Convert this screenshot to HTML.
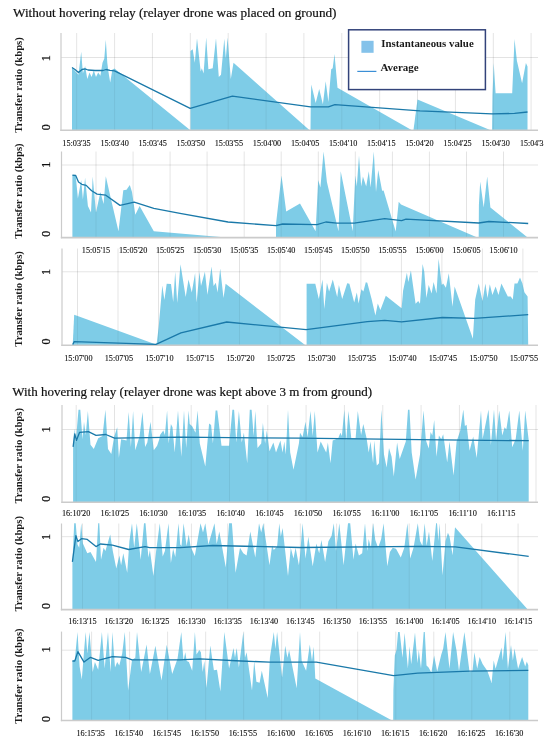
<!DOCTYPE html>
<html lang="en"><head><meta charset="utf-8"><title>Transfer ratio charts</title>
<style>
html,body{margin:0;padding:0;background:#fff}
body{width:550px;height:743px;overflow:hidden}
svg{display:block}
text{font-family:"Liberation Serif", serif;fill:#111}
.ttl{font-size:13px;stroke:#111;stroke-width:0.2px}
.xl{font-size:8.8px;fill:#111;stroke:#111;stroke-width:0.12px}
.yl{font-size:11px;font-weight:bold;fill:#1a1a1a}
.tk{font-size:12px;fill:#111;stroke:#111;stroke-width:0.25px}
.lg{font-size:11px;font-weight:bold;fill:#1a1a1a}
</style></head><body>
<svg width="550" height="743" viewBox="0 0 550 743">
<rect width="550" height="743" fill="#fff"/>
<text class="ttl" x="13" y="17" textLength="323.5" lengthAdjust="spacingAndGlyphs">Without hovering relay (relayer drone was placed on ground)</text>
<text class="ttl" x="12.2" y="396.3" textLength="360" lengthAdjust="spacingAndGlyphs">With hovering relay (relayer drone was kept above 3 m from ground)</text>
<g id="chart1">
<line x1="76.7" y1="33" x2="76.7" y2="130" stroke="rgba(0,0,0,0.05)" stroke-width="1"/>
<line x1="114.6" y1="33" x2="114.6" y2="130" stroke="rgba(0,0,0,0.05)" stroke-width="1"/>
<line x1="152.4" y1="33" x2="152.4" y2="130" stroke="rgba(0,0,0,0.05)" stroke-width="1"/>
<line x1="190.3" y1="33" x2="190.3" y2="130" stroke="rgba(0,0,0,0.05)" stroke-width="1"/>
<line x1="228.2" y1="33" x2="228.2" y2="130" stroke="rgba(0,0,0,0.05)" stroke-width="1"/>
<line x1="266.1" y1="33" x2="266.1" y2="130" stroke="rgba(0,0,0,0.05)" stroke-width="1"/>
<line x1="303.9" y1="33" x2="303.9" y2="130" stroke="rgba(0,0,0,0.05)" stroke-width="1"/>
<line x1="341.8" y1="33" x2="341.8" y2="130" stroke="rgba(0,0,0,0.05)" stroke-width="1"/>
<line x1="379.7" y1="33" x2="379.7" y2="130" stroke="rgba(0,0,0,0.05)" stroke-width="1"/>
<line x1="417.5" y1="33" x2="417.5" y2="130" stroke="rgba(0,0,0,0.05)" stroke-width="1"/>
<line x1="455.4" y1="33" x2="455.4" y2="130" stroke="rgba(0,0,0,0.05)" stroke-width="1"/>
<line x1="493.3" y1="33" x2="493.3" y2="130" stroke="rgba(0,0,0,0.05)" stroke-width="1"/>
<line x1="531.1" y1="33" x2="531.1" y2="130" stroke="rgba(0,0,0,0.05)" stroke-width="1"/>
<line x1="61" y1="57.5" x2="538" y2="57.5" stroke="rgba(0,0,0,0.05)" stroke-width="1"/>
<polygon points="72.0,130.0 72.0,67.5 76.4,72.5 78.5,74.7 81.2,51.8 82.9,73.6 85.1,66.0 87.3,79.1 89.5,72.5 91.6,76.9 93.8,70.4 96.0,76.9 98.2,72.5 100.4,75.8 102.5,62.7 104.3,58.4 105.8,39.8 107.3,62.7 108.4,71.5 110.2,82.4 112.4,69.6 114.5,68.6 190.0,130.0" fill="#7ecce7"/>
<polygon points="190.5,130.0 190.5,51.0 192.7,49.2 194.8,62.7 197.0,38.3 200.7,71.5 201.8,68.2 203.6,73.6 206.2,37.6 208.4,69.3 212.7,68.2 216.0,38.3 218.8,76.9 221.0,74.7 224.3,38.7 225.8,58.4 227.6,37.6 230.8,79.1 233.5,62.7 309.3,130.0" fill="#7ecce7"/>
<polygon points="310.5,130.0 310.8,100.0 311.3,84.5 315.7,103.1 319.2,88.9 322.9,104.2 325.7,81.3 328.4,102.0 331.2,69.3 332.7,68.2 334.5,54.0 337.5,87.8 411.5,130.0" fill="#7ecce7"/>
<polygon points="413.5,130.0 417.5,99.5 490.0,130.0" fill="#7ecce7"/>
<polygon points="492.1,130.0 492.5,95.0 493.7,63.1 495.6,93.3 512.2,93.3 514.5,39.0 516.9,60.7 522.1,83.2 525.9,63.1 527.5,66.6 527.5,130.0" fill="#7ecce7"/>
<line x1="76.7" y1="33" x2="76.7" y2="130" stroke="rgba(0,0,0,0.06)" stroke-width="1"/>
<line x1="114.6" y1="33" x2="114.6" y2="130" stroke="rgba(0,0,0,0.06)" stroke-width="1"/>
<line x1="152.4" y1="33" x2="152.4" y2="130" stroke="rgba(0,0,0,0.06)" stroke-width="1"/>
<line x1="190.3" y1="33" x2="190.3" y2="130" stroke="rgba(0,0,0,0.06)" stroke-width="1"/>
<line x1="228.2" y1="33" x2="228.2" y2="130" stroke="rgba(0,0,0,0.06)" stroke-width="1"/>
<line x1="266.1" y1="33" x2="266.1" y2="130" stroke="rgba(0,0,0,0.06)" stroke-width="1"/>
<line x1="303.9" y1="33" x2="303.9" y2="130" stroke="rgba(0,0,0,0.06)" stroke-width="1"/>
<line x1="341.8" y1="33" x2="341.8" y2="130" stroke="rgba(0,0,0,0.06)" stroke-width="1"/>
<line x1="379.7" y1="33" x2="379.7" y2="130" stroke="rgba(0,0,0,0.06)" stroke-width="1"/>
<line x1="417.5" y1="33" x2="417.5" y2="130" stroke="rgba(0,0,0,0.06)" stroke-width="1"/>
<line x1="455.4" y1="33" x2="455.4" y2="130" stroke="rgba(0,0,0,0.06)" stroke-width="1"/>
<line x1="493.3" y1="33" x2="493.3" y2="130" stroke="rgba(0,0,0,0.06)" stroke-width="1"/>
<line x1="531.1" y1="33" x2="531.1" y2="130" stroke="rgba(0,0,0,0.06)" stroke-width="1"/>
<line x1="61" y1="57.5" x2="538" y2="57.5" stroke="rgba(0,0,0,0.06)" stroke-width="1"/>
<line x1="61" y1="33" x2="61" y2="131" stroke="#cbcbcb" stroke-width="1.2"/>
<line x1="60.3" y1="130.3" x2="538" y2="130.3" stroke="#cbcbcb" stroke-width="1.6"/>
<polyline points="72.0,67.5 75.0,69.5 78.5,72.5 82.0,69.5 85.0,68.8 88.0,70.0 95.0,70.5 103.0,70.5 106.0,69.5 110.0,70.3 114.5,70.8 190.2,108.3 232.4,96.1 310.5,106.8 328.4,106.8 334.9,104.6 420.0,110.8 492.0,113.9 514.5,113.4 527.5,112.0" fill="none" stroke="#1a79a9" stroke-width="1.3" stroke-linejoin="round"/>
<text class="xl" x="76.5" y="145.5" text-anchor="middle" textLength="28.4" lengthAdjust="spacingAndGlyphs">15:03'35</text>
<text class="xl" x="114.6" y="145.5" text-anchor="middle" textLength="28.4" lengthAdjust="spacingAndGlyphs">15:03'40</text>
<text class="xl" x="152.7" y="145.5" text-anchor="middle" textLength="28.4" lengthAdjust="spacingAndGlyphs">15:03'45</text>
<text class="xl" x="190.8" y="145.5" text-anchor="middle" textLength="28.4" lengthAdjust="spacingAndGlyphs">15:03'50</text>
<text class="xl" x="228.9" y="145.5" text-anchor="middle" textLength="28.4" lengthAdjust="spacingAndGlyphs">15:03'55</text>
<text class="xl" x="267.0" y="145.5" text-anchor="middle" textLength="28.4" lengthAdjust="spacingAndGlyphs">15:04'00</text>
<text class="xl" x="305.1" y="145.5" text-anchor="middle" textLength="28.4" lengthAdjust="spacingAndGlyphs">15:04'05</text>
<text class="xl" x="343.2" y="145.5" text-anchor="middle" textLength="28.4" lengthAdjust="spacingAndGlyphs">15:04'10</text>
<text class="xl" x="381.3" y="145.5" text-anchor="middle" textLength="28.4" lengthAdjust="spacingAndGlyphs">15:04'15</text>
<text class="xl" x="419.4" y="145.5" text-anchor="middle" textLength="28.4" lengthAdjust="spacingAndGlyphs">15:04'20</text>
<text class="xl" x="457.5" y="145.5" text-anchor="middle" textLength="28.4" lengthAdjust="spacingAndGlyphs">15:04'25</text>
<text class="xl" x="495.6" y="145.5" text-anchor="middle" textLength="28.4" lengthAdjust="spacingAndGlyphs">15:04'30</text>
<text class="xl" x="520" y="145.5" textLength="23.6" lengthAdjust="spacingAndGlyphs">15:04'3</text>
<text class="yl" transform="translate(21.7,85) rotate(-90)" text-anchor="middle" textLength="95.5" lengthAdjust="spacingAndGlyphs">Transfer ratio (kbps)</text>
<text class="tk" transform="translate(50.3,58.3) rotate(-90)" text-anchor="middle">1</text>
<text class="tk" transform="translate(50.3,127.3) rotate(-90)" text-anchor="middle">0</text>
</g>
<g id="chart2">
<line x1="96.0" y1="151.5" x2="96.0" y2="237.3" stroke="rgba(0,0,0,0.05)" stroke-width="1"/>
<line x1="133.1" y1="151.5" x2="133.1" y2="237.3" stroke="rgba(0,0,0,0.05)" stroke-width="1"/>
<line x1="170.1" y1="151.5" x2="170.1" y2="237.3" stroke="rgba(0,0,0,0.05)" stroke-width="1"/>
<line x1="207.1" y1="151.5" x2="207.1" y2="237.3" stroke="rgba(0,0,0,0.05)" stroke-width="1"/>
<line x1="244.2" y1="151.5" x2="244.2" y2="237.3" stroke="rgba(0,0,0,0.05)" stroke-width="1"/>
<line x1="281.2" y1="151.5" x2="281.2" y2="237.3" stroke="rgba(0,0,0,0.05)" stroke-width="1"/>
<line x1="318.3" y1="151.5" x2="318.3" y2="237.3" stroke="rgba(0,0,0,0.05)" stroke-width="1"/>
<line x1="355.3" y1="151.5" x2="355.3" y2="237.3" stroke="rgba(0,0,0,0.05)" stroke-width="1"/>
<line x1="392.4" y1="151.5" x2="392.4" y2="237.3" stroke="rgba(0,0,0,0.05)" stroke-width="1"/>
<line x1="429.4" y1="151.5" x2="429.4" y2="237.3" stroke="rgba(0,0,0,0.05)" stroke-width="1"/>
<line x1="466.5" y1="151.5" x2="466.5" y2="237.3" stroke="rgba(0,0,0,0.05)" stroke-width="1"/>
<line x1="503.5" y1="151.5" x2="503.5" y2="237.3" stroke="rgba(0,0,0,0.05)" stroke-width="1"/>
<line x1="61.5" y1="165" x2="538" y2="165" stroke="rgba(0,0,0,0.05)" stroke-width="1"/>
<polygon points="72.4,237.3 72.4,175.1 75.7,175.5 77.9,198.5 81.2,179.9 82.9,199.5 85.1,177.7 87.9,206.1 91.0,212.6 92.7,176.6 96.0,212.6 100.4,191.9 103.6,203.9 105.8,176.2 110.6,197.4 118.5,231.2 123.3,190.2 126.5,189.7 129.8,184.9 132.0,191.9 135.3,214.8 139.6,206.1 153.8,231.2 223.6,237.3" fill="#7ecce7"/>
<polygon points="276.0,237.3 276.0,224.0 281.5,175.5 286.2,211.6 300.0,203.5 315.6,231.2 318.2,179.9 320.4,187.5 323.6,151.5 326.9,182.1 338.5,231.2 340.7,171.2 352.7,231.2 355.3,175.5 356.8,186.5 359.0,155.5 361.2,186.5 362.9,176.6 366.2,186.5 368.8,171.2 370.6,187.5 373.8,151.5 376.0,191.9 378.2,170.1 382.1,190.8 383.6,190.4 395.7,231.5 398.7,201.7 401.0,204.6 476.7,237.3" fill="#7ecce7"/>
<polygon points="478.7,237.3 478.9,205.0 480.2,181.4 483.7,207.5 487.2,176.4 490.4,207.5 527.3,237.3" fill="#7ecce7"/>
<line x1="96.0" y1="151.5" x2="96.0" y2="237.3" stroke="rgba(0,0,0,0.06)" stroke-width="1"/>
<line x1="133.1" y1="151.5" x2="133.1" y2="237.3" stroke="rgba(0,0,0,0.06)" stroke-width="1"/>
<line x1="170.1" y1="151.5" x2="170.1" y2="237.3" stroke="rgba(0,0,0,0.06)" stroke-width="1"/>
<line x1="207.1" y1="151.5" x2="207.1" y2="237.3" stroke="rgba(0,0,0,0.06)" stroke-width="1"/>
<line x1="244.2" y1="151.5" x2="244.2" y2="237.3" stroke="rgba(0,0,0,0.06)" stroke-width="1"/>
<line x1="281.2" y1="151.5" x2="281.2" y2="237.3" stroke="rgba(0,0,0,0.06)" stroke-width="1"/>
<line x1="318.3" y1="151.5" x2="318.3" y2="237.3" stroke="rgba(0,0,0,0.06)" stroke-width="1"/>
<line x1="355.3" y1="151.5" x2="355.3" y2="237.3" stroke="rgba(0,0,0,0.06)" stroke-width="1"/>
<line x1="392.4" y1="151.5" x2="392.4" y2="237.3" stroke="rgba(0,0,0,0.06)" stroke-width="1"/>
<line x1="429.4" y1="151.5" x2="429.4" y2="237.3" stroke="rgba(0,0,0,0.06)" stroke-width="1"/>
<line x1="466.5" y1="151.5" x2="466.5" y2="237.3" stroke="rgba(0,0,0,0.06)" stroke-width="1"/>
<line x1="503.5" y1="151.5" x2="503.5" y2="237.3" stroke="rgba(0,0,0,0.06)" stroke-width="1"/>
<line x1="61.5" y1="165" x2="538" y2="165" stroke="rgba(0,0,0,0.06)" stroke-width="1"/>
<line x1="61.5" y1="151.5" x2="61.5" y2="238.3" stroke="#cbcbcb" stroke-width="1.2"/>
<line x1="60.8" y1="237.60000000000002" x2="538" y2="237.60000000000002" stroke="#cbcbcb" stroke-width="1.6"/>
<polyline points="72.4,175.1 75.7,175.5 78.5,182.0 81.8,184.3 86.2,185.4 91.6,190.8 97.1,194.1 105.8,195.2 120.0,205.4 134.2,202.2 153.8,208.3 180.0,213.3 228.0,222.0 276.0,225.7 282.6,224.0 317.0,224.6 325.8,222.0 336.7,223.1 354.2,223.1 384.7,218.7 401.6,220.6 406.0,219.2 478.7,223.0 488.9,221.5 528.2,223.5" fill="none" stroke="#1a79a9" stroke-width="1.3" stroke-linejoin="round"/>
<text class="xl" x="96.0" y="252.5" text-anchor="middle" textLength="28.4" lengthAdjust="spacingAndGlyphs">15:05'15</text>
<text class="xl" x="133.1" y="252.5" text-anchor="middle" textLength="28.4" lengthAdjust="spacingAndGlyphs">15:05'20</text>
<text class="xl" x="170.1" y="252.5" text-anchor="middle" textLength="28.4" lengthAdjust="spacingAndGlyphs">15:05'25</text>
<text class="xl" x="207.1" y="252.5" text-anchor="middle" textLength="28.4" lengthAdjust="spacingAndGlyphs">15:05'30</text>
<text class="xl" x="244.2" y="252.5" text-anchor="middle" textLength="28.4" lengthAdjust="spacingAndGlyphs">15:05'35</text>
<text class="xl" x="281.2" y="252.5" text-anchor="middle" textLength="28.4" lengthAdjust="spacingAndGlyphs">15:05'40</text>
<text class="xl" x="318.3" y="252.5" text-anchor="middle" textLength="28.4" lengthAdjust="spacingAndGlyphs">15:05'45</text>
<text class="xl" x="355.3" y="252.5" text-anchor="middle" textLength="28.4" lengthAdjust="spacingAndGlyphs">15:05'50</text>
<text class="xl" x="392.4" y="252.5" text-anchor="middle" textLength="28.4" lengthAdjust="spacingAndGlyphs">15:05'55</text>
<text class="xl" x="429.4" y="252.5" text-anchor="middle" textLength="28.4" lengthAdjust="spacingAndGlyphs">15:06'00</text>
<text class="xl" x="466.5" y="252.5" text-anchor="middle" textLength="28.4" lengthAdjust="spacingAndGlyphs">15:06'05</text>
<text class="xl" x="503.5" y="252.5" text-anchor="middle" textLength="28.4" lengthAdjust="spacingAndGlyphs">15:06'10</text>
<text class="yl" transform="translate(21.7,191.1) rotate(-90)" text-anchor="middle" textLength="95.5" lengthAdjust="spacingAndGlyphs">Transfer ratio (kbps)</text>
<text class="tk" transform="translate(50.3,164.8) rotate(-90)" text-anchor="middle">1</text>
<text class="tk" transform="translate(50.3,233.7) rotate(-90)" text-anchor="middle">0</text>
</g>
<g id="chart3">
<line x1="77.5" y1="248.5" x2="77.5" y2="345" stroke="rgba(0,0,0,0.05)" stroke-width="1"/>
<line x1="118.0" y1="248.5" x2="118.0" y2="345" stroke="rgba(0,0,0,0.05)" stroke-width="1"/>
<line x1="158.5" y1="248.5" x2="158.5" y2="345" stroke="rgba(0,0,0,0.05)" stroke-width="1"/>
<line x1="199.0" y1="248.5" x2="199.0" y2="345" stroke="rgba(0,0,0,0.05)" stroke-width="1"/>
<line x1="239.5" y1="248.5" x2="239.5" y2="345" stroke="rgba(0,0,0,0.05)" stroke-width="1"/>
<line x1="280.0" y1="248.5" x2="280.0" y2="345" stroke="rgba(0,0,0,0.05)" stroke-width="1"/>
<line x1="320.4" y1="248.5" x2="320.4" y2="345" stroke="rgba(0,0,0,0.05)" stroke-width="1"/>
<line x1="360.9" y1="248.5" x2="360.9" y2="345" stroke="rgba(0,0,0,0.05)" stroke-width="1"/>
<line x1="401.4" y1="248.5" x2="401.4" y2="345" stroke="rgba(0,0,0,0.05)" stroke-width="1"/>
<line x1="441.9" y1="248.5" x2="441.9" y2="345" stroke="rgba(0,0,0,0.05)" stroke-width="1"/>
<line x1="482.4" y1="248.5" x2="482.4" y2="345" stroke="rgba(0,0,0,0.05)" stroke-width="1"/>
<line x1="522.9" y1="248.5" x2="522.9" y2="345" stroke="rgba(0,0,0,0.05)" stroke-width="1"/>
<line x1="62" y1="271.8" x2="538" y2="271.8" stroke="rgba(0,0,0,0.05)" stroke-width="1"/>
<polygon points="72.7,345.0 74.2,314.8 156.0,344.5 156.0,345.0" fill="#7ecce7"/>
<polygon points="156.5,345.0 158.7,326.8 162.3,285.5 164.4,300.0 166.7,283.7 171.0,284.0 173.2,302.0 175.2,271.8 177.2,303.0 180.5,264.2 185.7,296.9 188.5,279.5 191.8,292.5 195.1,272.9 196.6,302.4 199.5,271.8 201.0,286.0 204.9,271.8 207.5,294.7 211.5,266.4 213.6,286.0 215.8,282.7 217.6,292.5 220.2,268.5 223.5,298.0 225.6,283.8 305.1,345.0" fill="#7ecce7"/>
<polygon points="306.6,345.0 306.6,283.8 315.3,283.8 318.8,299.1 322.5,279.5 324.3,308.9 326.9,282.7 329.1,291.5 332.8,279.5 337.2,296.9 338.9,284.9 342.2,299.1 347.2,283.2 349.4,283.8 354.2,302.4 356.8,292.5 358.6,303.5 361.4,289.3 363.4,291.5 365.8,282.3 367.3,282.7 371.6,299.1 375.4,315.5 377.8,303.5 380.4,310.0 385.8,295.8 401.6,308.2 403.1,290.7 406.9,272.7 408.3,282.0 410.9,270.4 415.6,303.8 418.2,300.9 420.0,303.8 422.6,264.0 424.3,271.8 426.4,298.0 428.7,284.9 431.6,293.6 433.6,282.0 436.5,293.6 438.6,258.7 441.8,284.9 443.2,283.5 445.9,287.8 448.8,273.3 452.5,306.7 454.6,286.4 472.9,338.7 475.2,299.5 478.7,283.5 482.5,300.9 485.4,283.5 487.5,298.0 489.8,284.3 492.4,295.1 495.6,286.4 498.5,295.1 501.4,283.5 507.8,296.5 510.7,296.5 512.8,299.5 514.5,283.5 517.4,283.5 520.0,277.6 522.4,283.5 524.4,292.2 527.6,296.5 528.2,345.0" fill="#7ecce7"/>
<line x1="77.5" y1="248.5" x2="77.5" y2="345" stroke="rgba(0,0,0,0.06)" stroke-width="1"/>
<line x1="118.0" y1="248.5" x2="118.0" y2="345" stroke="rgba(0,0,0,0.06)" stroke-width="1"/>
<line x1="158.5" y1="248.5" x2="158.5" y2="345" stroke="rgba(0,0,0,0.06)" stroke-width="1"/>
<line x1="199.0" y1="248.5" x2="199.0" y2="345" stroke="rgba(0,0,0,0.06)" stroke-width="1"/>
<line x1="239.5" y1="248.5" x2="239.5" y2="345" stroke="rgba(0,0,0,0.06)" stroke-width="1"/>
<line x1="280.0" y1="248.5" x2="280.0" y2="345" stroke="rgba(0,0,0,0.06)" stroke-width="1"/>
<line x1="320.4" y1="248.5" x2="320.4" y2="345" stroke="rgba(0,0,0,0.06)" stroke-width="1"/>
<line x1="360.9" y1="248.5" x2="360.9" y2="345" stroke="rgba(0,0,0,0.06)" stroke-width="1"/>
<line x1="401.4" y1="248.5" x2="401.4" y2="345" stroke="rgba(0,0,0,0.06)" stroke-width="1"/>
<line x1="441.9" y1="248.5" x2="441.9" y2="345" stroke="rgba(0,0,0,0.06)" stroke-width="1"/>
<line x1="482.4" y1="248.5" x2="482.4" y2="345" stroke="rgba(0,0,0,0.06)" stroke-width="1"/>
<line x1="522.9" y1="248.5" x2="522.9" y2="345" stroke="rgba(0,0,0,0.06)" stroke-width="1"/>
<line x1="62" y1="271.8" x2="538" y2="271.8" stroke="rgba(0,0,0,0.06)" stroke-width="1"/>
<line x1="62" y1="248.5" x2="62" y2="346" stroke="#cbcbcb" stroke-width="1.2"/>
<line x1="61.3" y1="345.3" x2="538" y2="345.3" stroke="#cbcbcb" stroke-width="1.6"/>
<polyline points="72.7,344.5 74.2,341.6 156.0,344.3 180.9,332.9 226.7,322.0 306.2,329.6 367.3,321.6 384.7,320.3 401.6,321.9 442.4,317.5 474.4,318.4 528.2,314.6" fill="none" stroke="#1a79a9" stroke-width="1.3" stroke-linejoin="round"/>
<text class="xl" x="78.4" y="360.5" text-anchor="middle" textLength="28.4" lengthAdjust="spacingAndGlyphs">15:07'00</text>
<text class="xl" x="118.9" y="360.5" text-anchor="middle" textLength="28.4" lengthAdjust="spacingAndGlyphs">15:07'05</text>
<text class="xl" x="159.4" y="360.5" text-anchor="middle" textLength="28.4" lengthAdjust="spacingAndGlyphs">15:07'10</text>
<text class="xl" x="199.9" y="360.5" text-anchor="middle" textLength="28.4" lengthAdjust="spacingAndGlyphs">15:07'15</text>
<text class="xl" x="240.4" y="360.5" text-anchor="middle" textLength="28.4" lengthAdjust="spacingAndGlyphs">15:07'20</text>
<text class="xl" x="280.9" y="360.5" text-anchor="middle" textLength="28.4" lengthAdjust="spacingAndGlyphs">15:07'25</text>
<text class="xl" x="321.4" y="360.5" text-anchor="middle" textLength="28.4" lengthAdjust="spacingAndGlyphs">15:07'30</text>
<text class="xl" x="361.9" y="360.5" text-anchor="middle" textLength="28.4" lengthAdjust="spacingAndGlyphs">15:07'35</text>
<text class="xl" x="402.4" y="360.5" text-anchor="middle" textLength="28.4" lengthAdjust="spacingAndGlyphs">15:07'40</text>
<text class="xl" x="442.9" y="360.5" text-anchor="middle" textLength="28.4" lengthAdjust="spacingAndGlyphs">15:07'45</text>
<text class="xl" x="483.4" y="360.5" text-anchor="middle" textLength="28.4" lengthAdjust="spacingAndGlyphs">15:07'50</text>
<text class="xl" x="523.9" y="360.5" text-anchor="middle" textLength="28.4" lengthAdjust="spacingAndGlyphs">15:07'55</text>
<text class="yl" transform="translate(21.7,298.9) rotate(-90)" text-anchor="middle" textLength="95.5" lengthAdjust="spacingAndGlyphs">Transfer ratio (kbps)</text>
<text class="tk" transform="translate(50.3,272) rotate(-90)" text-anchor="middle">1</text>
<text class="tk" transform="translate(50.3,341.4) rotate(-90)" text-anchor="middle">0</text>
</g>
<g id="chart4">
<line x1="76.2" y1="405" x2="76.2" y2="502" stroke="rgba(0,0,0,0.05)" stroke-width="1"/>
<line x1="114.5" y1="405" x2="114.5" y2="502" stroke="rgba(0,0,0,0.05)" stroke-width="1"/>
<line x1="152.8" y1="405" x2="152.8" y2="502" stroke="rgba(0,0,0,0.05)" stroke-width="1"/>
<line x1="191.2" y1="405" x2="191.2" y2="502" stroke="rgba(0,0,0,0.05)" stroke-width="1"/>
<line x1="229.5" y1="405" x2="229.5" y2="502" stroke="rgba(0,0,0,0.05)" stroke-width="1"/>
<line x1="267.8" y1="405" x2="267.8" y2="502" stroke="rgba(0,0,0,0.05)" stroke-width="1"/>
<line x1="306.1" y1="405" x2="306.1" y2="502" stroke="rgba(0,0,0,0.05)" stroke-width="1"/>
<line x1="344.4" y1="405" x2="344.4" y2="502" stroke="rgba(0,0,0,0.05)" stroke-width="1"/>
<line x1="382.8" y1="405" x2="382.8" y2="502" stroke="rgba(0,0,0,0.05)" stroke-width="1"/>
<line x1="421.1" y1="405" x2="421.1" y2="502" stroke="rgba(0,0,0,0.05)" stroke-width="1"/>
<line x1="459.4" y1="405" x2="459.4" y2="502" stroke="rgba(0,0,0,0.05)" stroke-width="1"/>
<line x1="497.7" y1="405" x2="497.7" y2="502" stroke="rgba(0,0,0,0.05)" stroke-width="1"/>
<line x1="536.0" y1="405" x2="536.0" y2="502" stroke="rgba(0,0,0,0.05)" stroke-width="1"/>
<line x1="62" y1="429.5" x2="538" y2="429.5" stroke="rgba(0,0,0,0.05)" stroke-width="1"/>
<polygon points="73.1,502.0 73.1,446.9 74.2,428.4 75.7,442.5 78.5,409.8 80.3,409.8 82.5,439.3 84.0,421.8 85.7,434.9 87.9,410.9 90.5,444.7 93.8,449.1 98.2,438.2 102.5,436.0 105.4,409.8 108.0,449.1 111.3,454.1 114.1,437.1 117.2,427.3 118.9,457.8 121.1,439.3 126.5,440.4 128.7,412.0 130.9,446.9 133.1,410.9 135.3,450.2 139.6,436.0 142.5,412.0 145.1,446.9 147.3,442.5 150.5,421.8 153.8,450.2 157.1,445.8 159.3,439.3 160.0,434.9 163.3,430.5 164.9,434.9 167.1,410.4 168.7,443.6 170.9,424.0 172.5,427.3 174.7,452.4 178.0,410.4 181.3,456.7 184.0,410.4 186.2,448.0 188.6,410.4 189.7,424.0 192.2,426.2 195.5,432.7 197.6,410.4 199.8,443.6 205.3,466.5 209.1,423.5 211.1,425.1 212.9,443.6 215.6,410.4 217.3,410.4 221.5,445.8 229.1,445.8 232.4,409.8 234.1,409.8 236.3,442.5 238.9,410.9 241.7,442.5 243.9,432.7 247.2,463.3 249.8,409.8 251.6,409.8 253.7,436.0 255.3,410.9 257.5,448.0 261.2,443.6 262.9,422.9 265.1,443.6 266.8,430.5 269.5,451.3 273.4,442.5 276.0,452.4 280.4,440.4 282.6,452.4 284.3,441.5 285.8,454.5 288.0,409.8 290.2,452.4 293.5,469.8 298.9,443.6 300.0,432.7 302.6,437.1 305.5,421.8 307.6,437.1 310.5,410.9 312.7,436.0 314.8,410.9 317.5,452.4 320.7,441.5 326.2,452.4 327.9,442.5 330.5,463.3 332.7,440.4 338.2,438.2 340.4,432.7 341.9,436.0 344.3,409.8 346.3,440.4 348.4,410.9 351.3,438.2 355.6,438.2 357.8,410.9 361.1,434.9 363.3,424.0 366.6,438.2 368.7,452.4 370.5,441.5 373.1,463.3 374.2,440.4 376.8,465.5 379.0,463.3 381.4,409.8 384.0,454.5 386.6,467.6 389.0,448.0 391.6,456.7 393.8,476.4 397.1,442.5 399.7,458.9 405.8,441.5 408.0,409.8 409.5,409.8 411.7,452.4 415.6,479.6 420.0,454.4 421.2,439.0 423.5,410.6 425.9,440.2 428.7,448.5 430.6,431.9 432.3,435.5 434.2,420.1 436.5,456.7 438.9,435.5 441.3,439.0 443.2,434.3 447.2,462.6 449.5,441.4 453.6,475.6 456.6,441.4 460.2,430.7 463.3,409.5 464.9,426.0 466.6,424.8 469.6,450.8 473.2,436.6 476.7,457.9 481.0,410.6 482.6,439.0 488.5,409.5 490.9,444.9 494.0,409.5 496.1,440.2 499.2,410.6 502.3,435.5 504.6,427.2 506.3,429.5 509.3,410.6 512.2,447.3 515.7,439.0 519.3,410.6 522.8,450.8 525.2,410.6 528.7,440.2 528.7,502.0" fill="#7ecce7"/>
<line x1="76.2" y1="405" x2="76.2" y2="502" stroke="rgba(0,0,0,0.06)" stroke-width="1"/>
<line x1="114.5" y1="405" x2="114.5" y2="502" stroke="rgba(0,0,0,0.06)" stroke-width="1"/>
<line x1="152.8" y1="405" x2="152.8" y2="502" stroke="rgba(0,0,0,0.06)" stroke-width="1"/>
<line x1="191.2" y1="405" x2="191.2" y2="502" stroke="rgba(0,0,0,0.06)" stroke-width="1"/>
<line x1="229.5" y1="405" x2="229.5" y2="502" stroke="rgba(0,0,0,0.06)" stroke-width="1"/>
<line x1="267.8" y1="405" x2="267.8" y2="502" stroke="rgba(0,0,0,0.06)" stroke-width="1"/>
<line x1="306.1" y1="405" x2="306.1" y2="502" stroke="rgba(0,0,0,0.06)" stroke-width="1"/>
<line x1="344.4" y1="405" x2="344.4" y2="502" stroke="rgba(0,0,0,0.06)" stroke-width="1"/>
<line x1="382.8" y1="405" x2="382.8" y2="502" stroke="rgba(0,0,0,0.06)" stroke-width="1"/>
<line x1="421.1" y1="405" x2="421.1" y2="502" stroke="rgba(0,0,0,0.06)" stroke-width="1"/>
<line x1="459.4" y1="405" x2="459.4" y2="502" stroke="rgba(0,0,0,0.06)" stroke-width="1"/>
<line x1="497.7" y1="405" x2="497.7" y2="502" stroke="rgba(0,0,0,0.06)" stroke-width="1"/>
<line x1="536.0" y1="405" x2="536.0" y2="502" stroke="rgba(0,0,0,0.06)" stroke-width="1"/>
<line x1="62" y1="429.5" x2="538" y2="429.5" stroke="rgba(0,0,0,0.06)" stroke-width="1"/>
<line x1="62" y1="405" x2="62" y2="503" stroke="#cbcbcb" stroke-width="1.2"/>
<line x1="61.3" y1="502.3" x2="538" y2="502.3" stroke="#cbcbcb" stroke-width="1.6"/>
<polyline points="73.1,446.9 74.8,433.8 76.4,440.4 79.6,432.3 88.4,431.6 96.0,435.3 105.8,434.5 114.5,438.2 180.0,437.1 300.0,438.2 420.0,439.7 528.7,440.7" fill="none" stroke="#1a79a9" stroke-width="1.3" stroke-linejoin="round"/>
<text class="xl" x="76.1" y="516" text-anchor="middle" textLength="28.4" lengthAdjust="spacingAndGlyphs">16:10'20</text>
<text class="xl" x="114.8" y="516" text-anchor="middle" textLength="28.4" lengthAdjust="spacingAndGlyphs">16:10'25</text>
<text class="xl" x="153.4" y="516" text-anchor="middle" textLength="28.4" lengthAdjust="spacingAndGlyphs">16:10'30</text>
<text class="xl" x="192.0" y="516" text-anchor="middle" textLength="28.4" lengthAdjust="spacingAndGlyphs">16:10'35</text>
<text class="xl" x="230.7" y="516" text-anchor="middle" textLength="28.4" lengthAdjust="spacingAndGlyphs">16:10'40</text>
<text class="xl" x="269.4" y="516" text-anchor="middle" textLength="28.4" lengthAdjust="spacingAndGlyphs">16:10'45</text>
<text class="xl" x="308.0" y="516" text-anchor="middle" textLength="28.4" lengthAdjust="spacingAndGlyphs">16:10'50</text>
<text class="xl" x="346.6" y="516" text-anchor="middle" textLength="28.4" lengthAdjust="spacingAndGlyphs">16:10'55</text>
<text class="xl" x="385.3" y="516" text-anchor="middle" textLength="28.4" lengthAdjust="spacingAndGlyphs">16:11'00</text>
<text class="xl" x="423.9" y="516" text-anchor="middle" textLength="28.4" lengthAdjust="spacingAndGlyphs">16:11'05</text>
<text class="xl" x="462.6" y="516" text-anchor="middle" textLength="28.4" lengthAdjust="spacingAndGlyphs">16:11'10</text>
<text class="xl" x="501.2" y="516" text-anchor="middle" textLength="28.4" lengthAdjust="spacingAndGlyphs">16:11'15</text>
<text class="yl" transform="translate(21.7,455.8) rotate(-90)" text-anchor="middle" textLength="95.5" lengthAdjust="spacingAndGlyphs">Transfer ratio (kbps)</text>
<text class="tk" transform="translate(50.3,429.4) rotate(-90)" text-anchor="middle">1</text>
<text class="tk" transform="translate(50.3,498.8) rotate(-90)" text-anchor="middle">0</text>
</g>
<g id="chart5">
<line x1="82.5" y1="523.5" x2="82.5" y2="609.3" stroke="rgba(0,0,0,0.05)" stroke-width="1"/>
<line x1="118.8" y1="523.5" x2="118.8" y2="609.3" stroke="rgba(0,0,0,0.05)" stroke-width="1"/>
<line x1="155.1" y1="523.5" x2="155.1" y2="609.3" stroke="rgba(0,0,0,0.05)" stroke-width="1"/>
<line x1="191.4" y1="523.5" x2="191.4" y2="609.3" stroke="rgba(0,0,0,0.05)" stroke-width="1"/>
<line x1="227.7" y1="523.5" x2="227.7" y2="609.3" stroke="rgba(0,0,0,0.05)" stroke-width="1"/>
<line x1="264.0" y1="523.5" x2="264.0" y2="609.3" stroke="rgba(0,0,0,0.05)" stroke-width="1"/>
<line x1="300.3" y1="523.5" x2="300.3" y2="609.3" stroke="rgba(0,0,0,0.05)" stroke-width="1"/>
<line x1="336.6" y1="523.5" x2="336.6" y2="609.3" stroke="rgba(0,0,0,0.05)" stroke-width="1"/>
<line x1="372.9" y1="523.5" x2="372.9" y2="609.3" stroke="rgba(0,0,0,0.05)" stroke-width="1"/>
<line x1="409.2" y1="523.5" x2="409.2" y2="609.3" stroke="rgba(0,0,0,0.05)" stroke-width="1"/>
<line x1="445.5" y1="523.5" x2="445.5" y2="609.3" stroke="rgba(0,0,0,0.05)" stroke-width="1"/>
<line x1="481.8" y1="523.5" x2="481.8" y2="609.3" stroke="rgba(0,0,0,0.05)" stroke-width="1"/>
<line x1="518.1" y1="523.5" x2="518.1" y2="609.3" stroke="rgba(0,0,0,0.05)" stroke-width="1"/>
<line x1="61.5" y1="536.7" x2="538" y2="536.7" stroke="rgba(0,0,0,0.05)" stroke-width="1"/>
<polygon points="72.4,609.3 72.4,561.9 74.2,523.2 75.7,523.2 77.5,544.5 79.2,547.7 81.2,523.2 82.9,543.4 87.3,553.2 90.5,552.1 96.0,561.9 98.2,523.2 99.3,523.2 101.0,559.7 103.6,547.7 105.4,551.0 110.2,534.6 112.8,551.0 116.3,568.5 119.4,555.4 121.1,565.2 123.3,553.2 127.2,572.8 129.4,541.2 132.0,523.2 134.2,547.7 136.8,523.2 140.7,559.7 144.0,523.2 145.5,523.2 148.4,557.5 149.9,549.9 153.4,576.1 156.0,552.1 159.8,523.2 162.7,556.5 164.9,551.0 168.5,523.2 170.9,563.0 173.1,548.8 175.3,557.0 178.5,523.2 180.2,544.5 181.5,546.0 183.6,523.2 186.6,546.0 188.7,534.6 190.6,546.6 194.8,556.0 200.5,523.2 203.0,532.5 205.3,523.2 208.4,544.5 214.5,523.2 216.7,543.9 219.3,531.4 225.8,567.4 229.1,523.2 231.9,523.2 235.6,572.8 240.0,547.7 243.3,553.2 246.6,555.4 250.3,531.4 255.3,557.5 259.0,523.2 261.2,532.5 263.3,523.2 269.5,565.2 272.1,545.5 273.8,549.9 277.1,546.6 279.3,523.2 280.8,536.8 282.6,528.1 288.0,576.1 290.8,547.7 293.5,558.6 295.6,547.7 298.9,565.2 300.0,555.4 302.6,523.2 305.5,558.6 308.3,536.8 312.7,566.3 316.4,543.4 319.2,553.2 321.4,540.1 325.1,561.9 328.4,541.2 331.6,535.7 333.8,523.2 336.0,551.0 339.3,523.2 343.6,565.2 348.0,523.2 350.2,523.2 353.5,559.7 355.6,543.4 358.9,555.4 362.2,553.2 365.0,523.2 367.2,551.0 368.7,539.0 370.9,547.7 373.1,523.2 375.3,540.1 378.1,547.7 381.2,539.0 383.6,523.2 387.3,566.3 389.9,552.1 392.7,547.7 396.0,548.8 400.8,557.5 404.3,547.7 407.4,523.2 410.2,558.6 413.5,547.7 417.8,523.2 420.0,541.0 422.4,545.7 424.7,523.2 426.6,545.7 429.0,531.5 432.3,561.1 436.1,523.2 437.0,523.2 438.4,541.0 439.6,523.2 442.5,575.3 445.5,541.0 447.9,532.7 449.5,536.3 452.6,555.2 455.0,527.3 527.5,609.3" fill="#7ecce7"/>
<line x1="82.5" y1="523.5" x2="82.5" y2="609.3" stroke="rgba(0,0,0,0.06)" stroke-width="1"/>
<line x1="118.8" y1="523.5" x2="118.8" y2="609.3" stroke="rgba(0,0,0,0.06)" stroke-width="1"/>
<line x1="155.1" y1="523.5" x2="155.1" y2="609.3" stroke="rgba(0,0,0,0.06)" stroke-width="1"/>
<line x1="191.4" y1="523.5" x2="191.4" y2="609.3" stroke="rgba(0,0,0,0.06)" stroke-width="1"/>
<line x1="227.7" y1="523.5" x2="227.7" y2="609.3" stroke="rgba(0,0,0,0.06)" stroke-width="1"/>
<line x1="264.0" y1="523.5" x2="264.0" y2="609.3" stroke="rgba(0,0,0,0.06)" stroke-width="1"/>
<line x1="300.3" y1="523.5" x2="300.3" y2="609.3" stroke="rgba(0,0,0,0.06)" stroke-width="1"/>
<line x1="336.6" y1="523.5" x2="336.6" y2="609.3" stroke="rgba(0,0,0,0.06)" stroke-width="1"/>
<line x1="372.9" y1="523.5" x2="372.9" y2="609.3" stroke="rgba(0,0,0,0.06)" stroke-width="1"/>
<line x1="409.2" y1="523.5" x2="409.2" y2="609.3" stroke="rgba(0,0,0,0.06)" stroke-width="1"/>
<line x1="445.5" y1="523.5" x2="445.5" y2="609.3" stroke="rgba(0,0,0,0.06)" stroke-width="1"/>
<line x1="481.8" y1="523.5" x2="481.8" y2="609.3" stroke="rgba(0,0,0,0.06)" stroke-width="1"/>
<line x1="518.1" y1="523.5" x2="518.1" y2="609.3" stroke="rgba(0,0,0,0.06)" stroke-width="1"/>
<line x1="61.5" y1="536.7" x2="538" y2="536.7" stroke="rgba(0,0,0,0.06)" stroke-width="1"/>
<line x1="61.5" y1="523.5" x2="61.5" y2="610.3" stroke="#cbcbcb" stroke-width="1.2"/>
<line x1="60.8" y1="609.5999999999999" x2="538" y2="609.5999999999999" stroke="#cbcbcb" stroke-width="1.6"/>
<polyline points="72.4,561.9 75.9,535.7 77.9,541.6 81.8,538.6 87.3,539.4 96.0,546.6 100.4,544.0 112.4,545.1 128.7,549.5 145.1,546.6 149.5,547.7 180.0,547.7 212.7,545.5 300.0,547.5 420.0,546.4 455.5,546.9 528.7,556.4" fill="none" stroke="#1a79a9" stroke-width="1.3" stroke-linejoin="round"/>
<text class="xl" x="82.5" y="624" text-anchor="middle" textLength="28.4" lengthAdjust="spacingAndGlyphs">16:13'15</text>
<text class="xl" x="118.8" y="624" text-anchor="middle" textLength="28.4" lengthAdjust="spacingAndGlyphs">16:13'20</text>
<text class="xl" x="155.1" y="624" text-anchor="middle" textLength="28.4" lengthAdjust="spacingAndGlyphs">16:13'25</text>
<text class="xl" x="191.4" y="624" text-anchor="middle" textLength="28.4" lengthAdjust="spacingAndGlyphs">16:13'30</text>
<text class="xl" x="227.7" y="624" text-anchor="middle" textLength="28.4" lengthAdjust="spacingAndGlyphs">16:13'35</text>
<text class="xl" x="264.0" y="624" text-anchor="middle" textLength="28.4" lengthAdjust="spacingAndGlyphs">16:13'40</text>
<text class="xl" x="300.3" y="624" text-anchor="middle" textLength="28.4" lengthAdjust="spacingAndGlyphs">16:13'45</text>
<text class="xl" x="336.6" y="624" text-anchor="middle" textLength="28.4" lengthAdjust="spacingAndGlyphs">16:13'50</text>
<text class="xl" x="372.9" y="624" text-anchor="middle" textLength="28.4" lengthAdjust="spacingAndGlyphs">16:13'55</text>
<text class="xl" x="409.2" y="624" text-anchor="middle" textLength="28.4" lengthAdjust="spacingAndGlyphs">16:14'00</text>
<text class="xl" x="445.5" y="624" text-anchor="middle" textLength="28.4" lengthAdjust="spacingAndGlyphs">16:14'05</text>
<text class="xl" x="481.8" y="624" text-anchor="middle" textLength="28.4" lengthAdjust="spacingAndGlyphs">16:14'10</text>
<text class="xl" x="518.1" y="624" text-anchor="middle" textLength="28.4" lengthAdjust="spacingAndGlyphs">16:14'15</text>
<text class="yl" transform="translate(21.7,563.8) rotate(-90)" text-anchor="middle" textLength="95.5" lengthAdjust="spacingAndGlyphs">Transfer ratio (kbps)</text>
<text class="tk" transform="translate(50.3,537.1) rotate(-90)" text-anchor="middle">1</text>
<text class="tk" transform="translate(50.3,606) rotate(-90)" text-anchor="middle">0</text>
</g>
<g id="chart6">
<line x1="91.6" y1="631.6" x2="91.6" y2="720.2" stroke="rgba(0,0,0,0.05)" stroke-width="1"/>
<line x1="129.6" y1="631.6" x2="129.6" y2="720.2" stroke="rgba(0,0,0,0.05)" stroke-width="1"/>
<line x1="167.6" y1="631.6" x2="167.6" y2="720.2" stroke="rgba(0,0,0,0.05)" stroke-width="1"/>
<line x1="205.7" y1="631.6" x2="205.7" y2="720.2" stroke="rgba(0,0,0,0.05)" stroke-width="1"/>
<line x1="243.7" y1="631.6" x2="243.7" y2="720.2" stroke="rgba(0,0,0,0.05)" stroke-width="1"/>
<line x1="281.7" y1="631.6" x2="281.7" y2="720.2" stroke="rgba(0,0,0,0.05)" stroke-width="1"/>
<line x1="319.7" y1="631.6" x2="319.7" y2="720.2" stroke="rgba(0,0,0,0.05)" stroke-width="1"/>
<line x1="357.7" y1="631.6" x2="357.7" y2="720.2" stroke="rgba(0,0,0,0.05)" stroke-width="1"/>
<line x1="395.8" y1="631.6" x2="395.8" y2="720.2" stroke="rgba(0,0,0,0.05)" stroke-width="1"/>
<line x1="433.8" y1="631.6" x2="433.8" y2="720.2" stroke="rgba(0,0,0,0.05)" stroke-width="1"/>
<line x1="471.8" y1="631.6" x2="471.8" y2="720.2" stroke="rgba(0,0,0,0.05)" stroke-width="1"/>
<line x1="509.8" y1="631.6" x2="509.8" y2="720.2" stroke="rgba(0,0,0,0.05)" stroke-width="1"/>
<line x1="61.5" y1="650.2" x2="538" y2="650.2" stroke="rgba(0,0,0,0.05)" stroke-width="1"/>
<polygon points="72.4,720.2 72.4,661.0 74.8,659.9 77.5,632.0 79.6,666.5 81.8,679.5 84.4,646.8 85.7,632.0 87.3,653.4 89.5,632.0 92.7,671.9 94.9,662.1 98.2,669.7 101.9,632.0 104.7,668.6 108.0,632.0 110.6,671.9 112.4,632.0 115.0,667.5 117.2,662.1 119.3,665.4 122.2,653.4 124.8,632.0 128.1,690.5 132.0,659.9 135.3,657.7 137.0,632.0 141.2,671.9 146.6,644.6 149.9,674.1 155.4,645.7 161.5,680.6 166.7,644.8 172.2,674.0 177.5,658.8 181.3,632.0 183.5,661.0 185.3,652.3 186.7,661.0 188.9,662.1 192.2,670.8 194.9,632.0 196.5,654.5 199.3,650.1 200.9,652.3 202.7,671.9 204.3,661.0 206.5,688.0 210.3,645.5 213.9,670.3 217.0,669.7 220.4,691.5 224.3,632.0 229.1,668.6 233.5,647.9 235.0,657.7 236.7,647.9 238.9,667.5 243.3,632.0 245.0,657.7 246.6,652.3 252.0,690.5 254.2,661.0 256.4,681.7 259.6,682.8 261.8,670.8 267.7,698.1 269.9,657.7 273.8,632.0 275.4,649.0 277.1,632.0 282.1,677.4 285.2,645.7 287.4,657.7 289.1,650.1 296.7,688.3 300.0,632.0 301.7,661.0 306.1,670.8 309.8,644.6 312.0,661.0 313.7,646.8 315.3,678.5 391.6,720.2" fill="#7ecce7"/>
<polygon points="393.2,720.2 393.4,690.0 394.8,655.5 396.5,650.1 398.1,632.0 399.7,632.0 402.5,657.7 404.6,633.0 407.9,668.6 409.5,646.3 411.2,664.3 415.0,632.5 417.5,663.2 418.8,650.1 421.0,668.6 423.7,632.0 424.8,632.0 426.5,665.4 428.6,667.5 431.4,672.5 434.1,655.5 437.2,671.5 441.3,654.5 443.2,648.6 445.5,632.0 449.5,668.7 453.1,632.0 456.6,651.0 459.0,671.1 464.4,632.0 469.6,672.3 472.5,671.1 474.4,652.2 477.2,668.7 479.6,656.9 482.6,664.0 487.4,671.1 491.6,682.9 493.7,660.5 495.6,668.7 501.5,647.5 502.7,660.5 505.6,632.0 507.9,668.7 511.0,645.1 512.9,660.5 514.5,648.6 518.1,668.7 522.1,656.9 525.2,666.4 526.8,661.6 528.3,665.2 528.3,720.2" fill="#7ecce7"/>
<line x1="91.6" y1="631.6" x2="91.6" y2="720.2" stroke="rgba(0,0,0,0.06)" stroke-width="1"/>
<line x1="129.6" y1="631.6" x2="129.6" y2="720.2" stroke="rgba(0,0,0,0.06)" stroke-width="1"/>
<line x1="167.6" y1="631.6" x2="167.6" y2="720.2" stroke="rgba(0,0,0,0.06)" stroke-width="1"/>
<line x1="205.7" y1="631.6" x2="205.7" y2="720.2" stroke="rgba(0,0,0,0.06)" stroke-width="1"/>
<line x1="243.7" y1="631.6" x2="243.7" y2="720.2" stroke="rgba(0,0,0,0.06)" stroke-width="1"/>
<line x1="281.7" y1="631.6" x2="281.7" y2="720.2" stroke="rgba(0,0,0,0.06)" stroke-width="1"/>
<line x1="319.7" y1="631.6" x2="319.7" y2="720.2" stroke="rgba(0,0,0,0.06)" stroke-width="1"/>
<line x1="357.7" y1="631.6" x2="357.7" y2="720.2" stroke="rgba(0,0,0,0.06)" stroke-width="1"/>
<line x1="395.8" y1="631.6" x2="395.8" y2="720.2" stroke="rgba(0,0,0,0.06)" stroke-width="1"/>
<line x1="433.8" y1="631.6" x2="433.8" y2="720.2" stroke="rgba(0,0,0,0.06)" stroke-width="1"/>
<line x1="471.8" y1="631.6" x2="471.8" y2="720.2" stroke="rgba(0,0,0,0.06)" stroke-width="1"/>
<line x1="509.8" y1="631.6" x2="509.8" y2="720.2" stroke="rgba(0,0,0,0.06)" stroke-width="1"/>
<line x1="61.5" y1="650.2" x2="538" y2="650.2" stroke="rgba(0,0,0,0.06)" stroke-width="1"/>
<line x1="61.5" y1="631.6" x2="61.5" y2="721.2" stroke="#cbcbcb" stroke-width="1.2"/>
<line x1="60.8" y1="720.5" x2="538" y2="720.5" stroke="#cbcbcb" stroke-width="1.6"/>
<polyline points="72.4,661.0 74.8,661.0 77.9,651.6 84.0,662.1 90.5,657.3 98.2,660.3 112.4,656.6 125.5,657.3 132.0,659.9 180.0,659.9 199.6,658.8 241.0,661.0 269.5,662.1 316.4,662.1 393.5,675.7 417.7,673.2 469.6,671.1 528.3,670.4" fill="none" stroke="#1a79a9" stroke-width="1.3" stroke-linejoin="round"/>
<text class="xl" x="90.7" y="735.5" text-anchor="middle" textLength="28.4" lengthAdjust="spacingAndGlyphs">16:15'35</text>
<text class="xl" x="128.8" y="735.5" text-anchor="middle" textLength="28.4" lengthAdjust="spacingAndGlyphs">16:15'40</text>
<text class="xl" x="166.8" y="735.5" text-anchor="middle" textLength="28.4" lengthAdjust="spacingAndGlyphs">16:15'45</text>
<text class="xl" x="204.8" y="735.5" text-anchor="middle" textLength="28.4" lengthAdjust="spacingAndGlyphs">16:15'50</text>
<text class="xl" x="242.9" y="735.5" text-anchor="middle" textLength="28.4" lengthAdjust="spacingAndGlyphs">16:15'55</text>
<text class="xl" x="280.9" y="735.5" text-anchor="middle" textLength="28.4" lengthAdjust="spacingAndGlyphs">16:16'00</text>
<text class="xl" x="319.0" y="735.5" text-anchor="middle" textLength="28.4" lengthAdjust="spacingAndGlyphs">16:16'05</text>
<text class="xl" x="357.0" y="735.5" text-anchor="middle" textLength="28.4" lengthAdjust="spacingAndGlyphs">16:16'10</text>
<text class="xl" x="395.1" y="735.5" text-anchor="middle" textLength="28.4" lengthAdjust="spacingAndGlyphs">16:16'15</text>
<text class="xl" x="433.1" y="735.5" text-anchor="middle" textLength="28.4" lengthAdjust="spacingAndGlyphs">16:16'20</text>
<text class="xl" x="471.2" y="735.5" text-anchor="middle" textLength="28.4" lengthAdjust="spacingAndGlyphs">16:16'25</text>
<text class="xl" x="509.2" y="735.5" text-anchor="middle" textLength="28.4" lengthAdjust="spacingAndGlyphs">16:16'30</text>
<text class="yl" transform="translate(21.7,676.1) rotate(-90)" text-anchor="middle" textLength="95.5" lengthAdjust="spacingAndGlyphs">Transfer ratio (kbps)</text>
<text class="tk" transform="translate(50.3,649.4) rotate(-90)" text-anchor="middle">1</text>
<text class="tk" transform="translate(50.3,719) rotate(-90)" text-anchor="middle">0</text>
</g>
<g id="legend">
<rect x="348.6" y="29.8" width="136.8" height="59.8" fill="#fff" stroke="#33437a" stroke-width="1.5"/>
<rect x="361.4" y="40.8" width="12.2" height="12" fill="#84c2ea"/>
<text class="lg" x="381.3" y="47.4" textLength="92.4" lengthAdjust="spacingAndGlyphs">Instantaneous value</text>
<line x1="357.3" y1="71.4" x2="376.4" y2="71.4" stroke="#3b8fd6" stroke-width="1.2"/>
<text class="lg" x="380.5" y="70.8" textLength="38.2" lengthAdjust="spacingAndGlyphs">Average</text>
</g>
</svg>
</body></html>
